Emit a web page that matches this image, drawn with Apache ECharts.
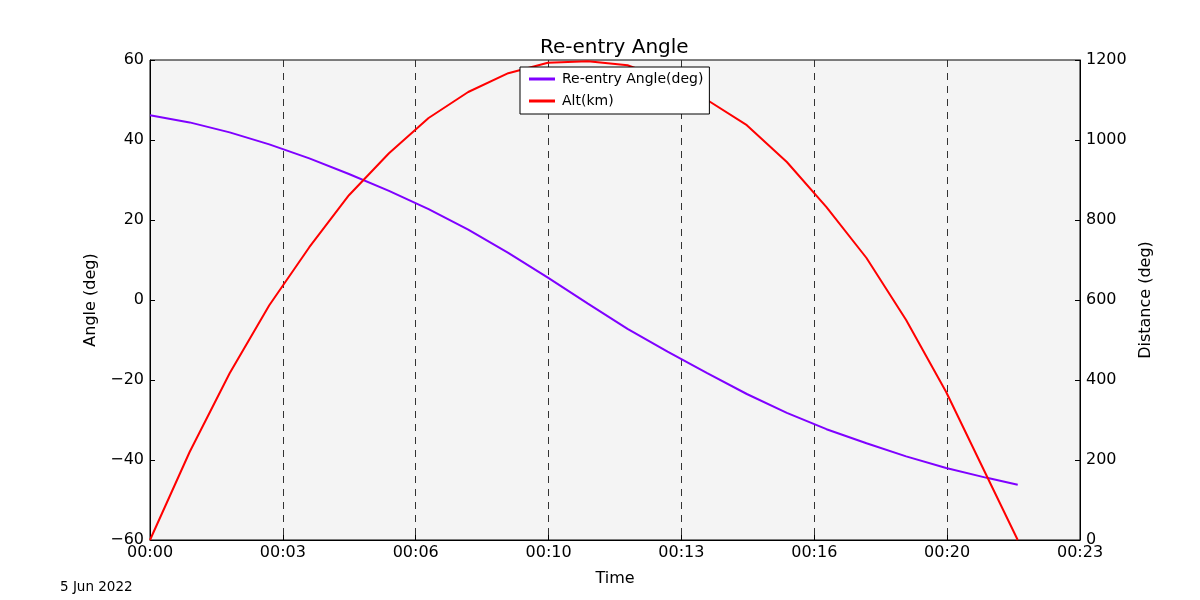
<!DOCTYPE html>
<html>
<head>
<meta charset="utf-8">
<script src="https://cdn.jsdelivr.net/npm/echarts@6/dist/echarts.min.js"></script>
<style>
  html, body { margin: 0; padding: 0; background: #fff; }
  #chart { width: 1200px; height: 600px; }
</style>
</head>
<body>
<div id="chart"></div>
<script>
// time since start, minutes
const timeMin = [0, 0.98, 1.97, 2.95, 3.94, 4.92, 5.91, 6.89, 7.87, 8.86, 9.84, 10.83,
  11.81, 12.80, 13.78, 14.76, 15.75, 16.73, 17.72, 18.70, 19.69, 20.67, 21.46]
// re-entry angle, deg (left axis)
const angleDeg = [46.2, 44.4, 41.9, 38.9, 35.4, 31.5, 27.3, 22.7, 17.6, 11.8, 5.6, -0.9,
  -7.2, -12.9, -18.3, -23.5, -28.2, -32.3, -35.8, -39.1, -42.0, -44.4, -46.2]
// altitude, km (right axis)
const altKm = [0, 220, 417, 587, 732, 862, 967, 1055, 1120, 1167, 1193, 1197,
  1187, 1150, 1100, 1037, 945, 832, 705, 550, 370, 165, 0]

// x ticks: 8 evenly spaced over 0..23 min
const xTickLabels = ['00:00', '00:03', '00:06', '00:10', '00:13', '00:16', '00:20', '00:23']
const xStep = 23 / (xTickLabels.length - 1)

const seriesNames = ['Re-entry Angle(deg)', 'Alt(km)']
const dateLabel = '5 Jun 2022'

const font = 'DejaVu Sans'
const minus = v => String(v).replace('-', '\u2212')

const chart = echarts.init(document.getElementById('chart'))
chart.setOption({
  animation: false,
  textStyle: { fontFamily: font },
  title: {
    text: 'Re-entry Angle',
    left: 540,
    top: 38,
    padding: 0,
    textStyle: { fontFamily: font, fontSize: 20, fontWeight: 'normal', color: '#000' }
  },
  grid: {
    left: 150,
    right: 120,
    top: 60,
    bottom: 60,
    show: true,
    backgroundColor: '#f4f4f4',
    borderColor: '#000',
    borderWidth: 1
  },
  legend: {
    orient: 'vertical',
    left: 520,
    top: 67,
    backgroundColor: '#fff',
    borderColor: '#000',
    borderWidth: 1,
    borderRadius: 0,
    padding: [5, 6, 6, 9],
    itemGap: 8,
    itemWidth: 26,
    itemHeight: 3,
    icon: 'rect',
    textStyle: { fontFamily: font, fontSize: 14, color: '#000', padding: [0, 0, 0, 2] },
    data: seriesNames
  },
  graphic: [{
    type: 'text',
    left: 60,
    top: 580,
    style: { text: dateLabel, font: '13.5px "DejaVu Sans"', fill: '#000' }
  }],
  xAxis: {
    type: 'value',
    min: 0,
    max: 23,
    interval: xStep,
    name: 'Time',
    nameLocation: 'middle',
    nameGap: 31,
    nameTextStyle: { fontFamily: font, fontSize: 16, color: '#000' },
    axisLine: { show: true, onZero: false, lineStyle: { color: '#000', width: 1 } },
    axisTick: { inside: true, length: 5, lineStyle: { color: '#000' } },
    axisLabel: {
      fontFamily: font, fontSize: 16, color: '#000', margin: 5,
      formatter: v => xTickLabels[Math.round(v / xStep)]
    },
    splitLine: { show: true, lineStyle: { color: '#333', type: [7, 6], width: 1 } }
  },
  yAxis: [{
    type: 'value',
    min: -60,
    max: 60,
    interval: 20,
    name: 'Angle (deg)',
    nameLocation: 'middle',
    nameGap: 48,
    nameTextStyle: { fontFamily: font, fontSize: 16, color: '#000' },
    axisLine: { show: true, onZero: false, lineStyle: { color: '#000', width: 1 } },
    axisTick: { show: true, inside: true, length: 5, lineStyle: { color: '#000' } },
    axisLabel: { fontFamily: font, fontSize: 16, color: '#000', margin: 6, formatter: minus },
    splitLine: { show: false }
  }, {
    type: 'value',
    min: 0,
    max: 1200,
    interval: 200,
    position: 'right',
    name: 'Distance (deg)',
    nameLocation: 'middle',
    nameGap: 52,
    nameRotate: 90,
    nameTextStyle: { fontFamily: font, fontSize: 16, color: '#000' },
    axisLine: { show: true, onZero: false, lineStyle: { color: '#000', width: 1 } },
    axisTick: { show: true, inside: true, length: 5, lineStyle: { color: '#000' } },
    axisLabel: { fontFamily: font, fontSize: 16, color: '#000', margin: 6, formatter: v => String(v) },
    splitLine: { show: false }
  }],
  series: [{
    name: seriesNames[0],
    type: 'line',
    yAxisIndex: 0,
    showSymbol: false,
    color: '#7f00ff',
    lineStyle: { color: '#7f00ff', width: 2 },
    data: timeMin.map((t, i) => [t, angleDeg[i]])
  }, {
    name: seriesNames[1],
    type: 'line',
    yAxisIndex: 1,
    showSymbol: false,
    color: '#ff0000',
    lineStyle: { color: '#ff0000', width: 2 },
    data: timeMin.map((t, i) => [t, altKm[i]])
  }]
})
</script>
</body>
</html>
